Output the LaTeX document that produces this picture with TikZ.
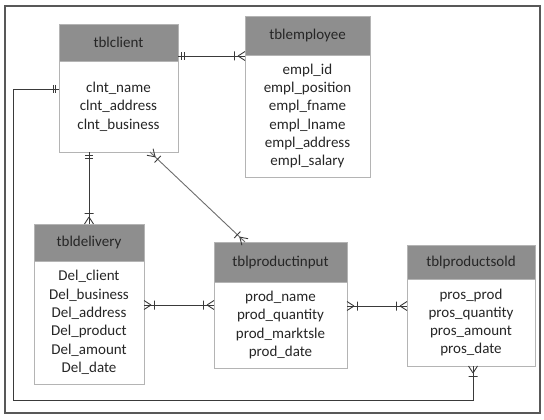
\documentclass[tikz,border=0pt]{standalone}
\usepackage{fontspec}
\setmainfont{Carlito}
\usetikzlibrary{calc,decorations.markings}
\definecolor{hdr}{HTML}{8E8E8E}
\definecolor{bord}{HTML}{B4B4B4}
\definecolor{txt}{HTML}{262626}
\definecolor{ln}{HTML}{3A3A3A}
\definecolor{lnlight}{HTML}{6E6E6E}
\tikzset{
  tbl/.style={draw=bord, line width=0.9pt, anchor=north west, inner sep=0pt, outer sep=0pt,
    font=\fontsize{15}{18.3}\selectfont, text=txt, align=center},
  hdrbox/.style={tbl, fill=hdr},
  bodybox/.style={tbl, fill=white},
  rel/.style={draw=ln, line width=0.9pt},
  endmany/.style={postaction={decorate, decoration={markings, mark=at position 1 with {
    \draw[ln, line width=0.9pt] (-7pt,0pt)--(0pt,4.5pt) (-7pt,0pt)--(0pt,-4.5pt) (-10.5pt,-4.5pt)--(-10.5pt,4.5pt);}}}},
  startmany/.style={postaction={decorate, decoration={markings, mark=at position 0 with {
    \draw[ln, line width=0.9pt] (7pt,0pt)--(0pt,4.5pt) (7pt,0pt)--(0pt,-4.5pt) (10.5pt,-4.5pt)--(10.5pt,4.5pt);}}}},
  startone/.style={postaction={decorate, decoration={markings, mark=at position 0 with {
    \draw[ln, line width=0.9pt] (3.5pt,-4pt)--(3.5pt,4pt) (6pt,-4pt)--(6pt,4pt);}}}},
}
\begin{document}
\begin{tikzpicture}[x=1pt,y=-1pt]
\useasboundingbox (0,0) rectangle (544,420);
\draw[draw=ln!85, line width=1.1pt] (5,6) rectangle (540,413);

% tblclient
\node[hdrbox, minimum width=119pt, minimum height=37pt] (clH) at (59,24) {tblclient};
\node[bodybox, minimum width=119pt, minimum height=91pt] (clB) at (59,61) {clnt\_name\\clnt\_address\\clnt\_business};

% tblemployee
\node[hdrbox, minimum width=125pt, minimum height=39pt] (emH) at (245,16) {tblemployee};
\node[bodybox, minimum width=125pt, minimum height=122pt] (emB) at (245,55) {empl\_id\\empl\_position\\empl\_fname\\empl\_lname\\empl\_address\\empl\_salary};

% tbldelivery
\node[hdrbox, minimum width=110pt, minimum height=37pt] (deH) at (34,224) {tbldelivery};
\node[bodybox, minimum width=110pt, minimum height=123pt] (deB) at (34,261) {Del\_client\\Del\_business\\Del\_address\\Del\_product\\Del\_amount\\Del\_date};

% tblproductinput
\node[hdrbox, minimum width=133pt, minimum height=40pt] (piH) at (214,242) {tblproductinput};
\node[bodybox, minimum width=133pt, minimum height=86pt] (piB) at (214,282) {prod\_name\\prod\_quantity\\prod\_marktsle\\prod\_date};

% tblproductsold
\node[hdrbox, minimum width=128pt, minimum height=34pt] (psH) at (407,245) {tblproductsold};
\node[bodybox, minimum width=128pt, minimum height=87pt] (psB) at (407,279) {pros\_prod\\pros\_quantity\\pros\_amount\\pros\_date};

% connectors
\coordinate (c1) at ($(clH.north east)+(0,32)$);
\draw[rel, startone, endmany] (c1) -- (c1 -| emB.west);

\coordinate (c2) at ($(clB.north west)+(0,28)$);
\coordinate (c2a) at (13,400);
\coordinate (c2b) at ($(psB.south)+(2,0)$);
\draw[rel, startone, endmany] (c2) -- (c2 -| c2a) -- (c2a) -- (c2a -| c2b) -- (c2b);

\coordinate (c3) at ($(clB.south west)+(30,0)$);
\draw[rel, startone, endmany] (c3) -- (c3 |- deH.north);

\coordinate (c4) at ($(clB.south west)+(91,0)$);
\coordinate (c4b) at ($(piH.north west)+(31,0)$);
\draw[rel, draw=lnlight, startmany, endmany] (c4) -- (c4b);

\coordinate (c5) at ($(deB.north east)+(0,44)$);
\draw[rel, startmany, endmany] (c5) -- (c5 -| piB.west);

\coordinate (c6) at ($(piB.north east)+(0,24)$);
\draw[rel, startmany, endmany] (c6) -- (c6 -| psB.west);
\end{tikzpicture}
\end{document}
